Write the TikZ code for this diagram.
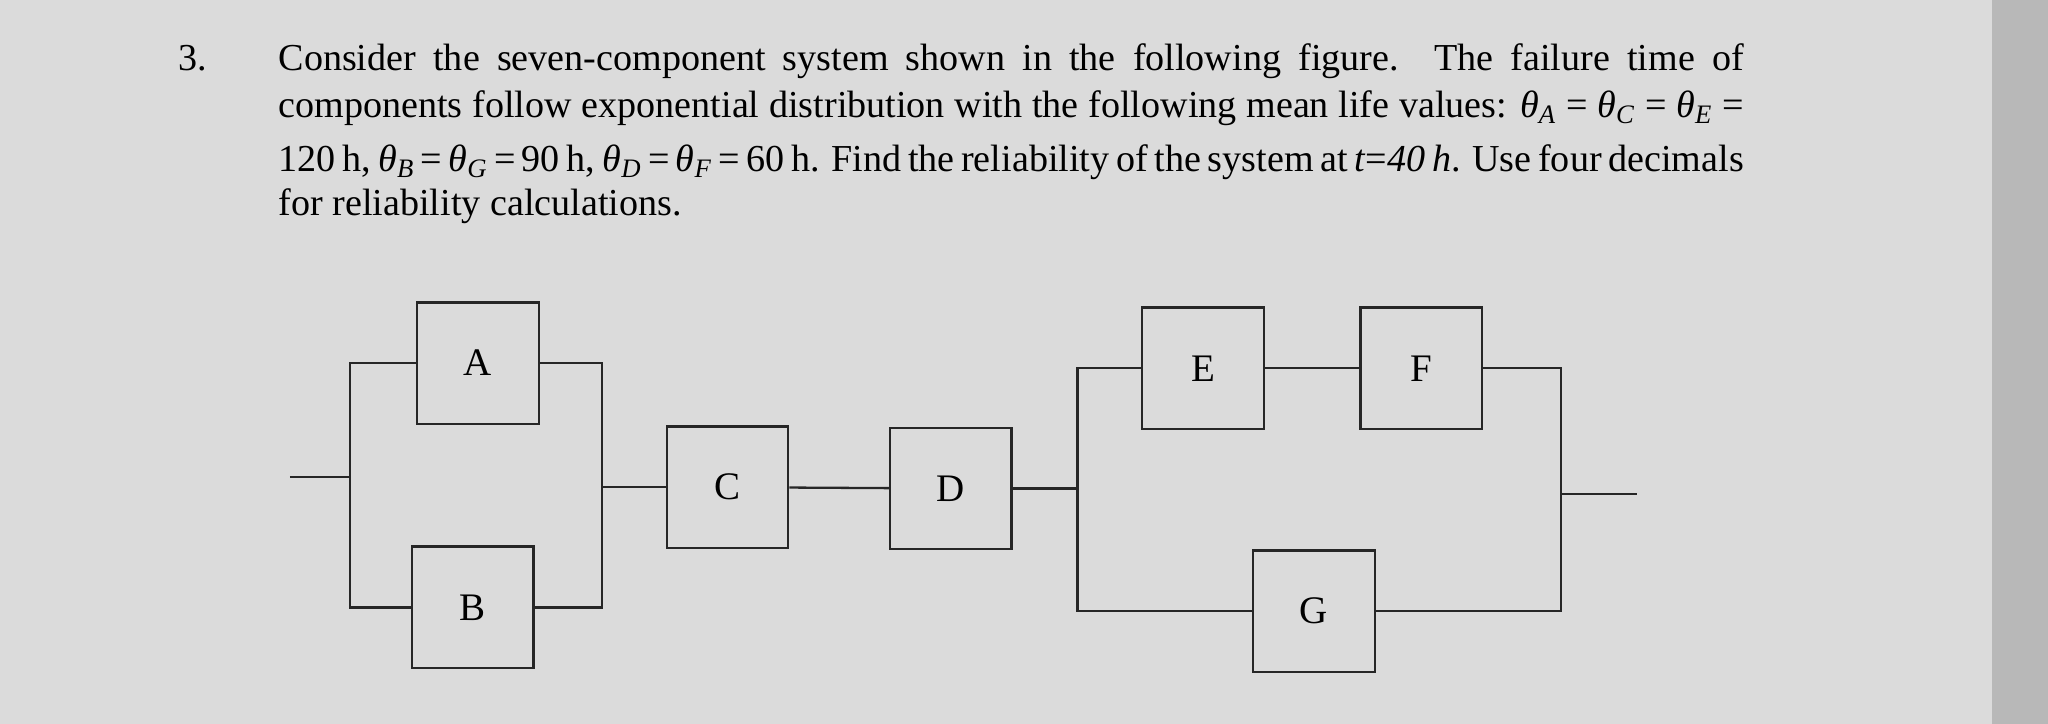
\documentclass[tikz,border=0pt]{standalone}
\usepackage{fontspec}
\setmainfont{Liberation Serif}
\newcommand{\thx}[1]{\textit{θ}\textsubscript{\textit{#1}}}
\begin{document}
\begin{tikzpicture}[x=0.02cm,y=-0.02cm,
  blk/.style={draw=black!85,line width=1pt,minimum size=1.86cm,inner sep=0pt,font=\fontsize{17}{20}\selectfont},
  wire/.style={draw=black!85,line width=1pt},
  ln/.style={anchor=base west,inner sep=0pt,font=\fontsize{16.6}{20}\selectfont}]
\useasboundingbox (0,0) rectangle (1568,554);
\fill[black!14] (0,0) rectangle (1568,554);
\fill[black!28] (1525,0) rectangle (1568,554);
\node[ln] (num) at (136,54) {3.};
\node[ln] (l1) at (213,54) {\makebox[22.44cm][s]{Consider the seven-component system shown in the following figure. The failure time of}};
\node[ln] (l2) at (213,90) {\makebox[22.44cm][s]{components follow exponential distribution with the following mean life values: \thx{A} = \thx{C} = \thx{E} =}};
\node[ln] (l3) at (213,131) {\makebox[22.44cm][s]{120 h, \thx{B}\,=\,\thx{G}\,=\,90 h, \thx{D}\,=\,\thx{F}\,=\,60 h. Find the reliability of the system at \textit{t}=\textit{40 h}. Use four decimals}};
\node[ln] (l4) at (213,165) {for reliability calculations.};
\node[blk] (A) at (366,278) {A};
\node[blk] (B) at (362,465) {B};
\node[blk] (C) at (557,373) {C};
\node[blk] (D) at (728,374) {D};
\node[blk] (E) at (921,282) {E};
\node[blk] (F) at (1088,282) {F};
\node[blk] (G) at (1006,468) {G};
\coordinate (in) at (222,365);
\coordinate (j1) at (268,365);
\coordinate (j2) at (461,373);
\coordinate (j3) at (825,374);
\coordinate (j4) at (1195,378);
\coordinate (out) at (1253,378);
\draw[wire] (in) -- (j1);
\draw[wire] (A.west) -- (268,278) -- (268,465) -- (B.west);
\draw[wire] (A.east) -- (461,278) -- (461,465) -- (B.east);
\draw[wire] (j2) -- (C.west |- j2);
\draw[wire] (C) -- (D);
\draw[wire] (D.east) -- (j3);
\draw[wire] (E.west) -- (825,282) -- (825,468) -- (G.west);
\draw[wire] (E) -- (F);
\draw[wire] (F.east) -- (1195,282) -- (1195,468) -- (G.east);
\draw[wire] (j4) -- (out);
\end{tikzpicture}
\end{document}
